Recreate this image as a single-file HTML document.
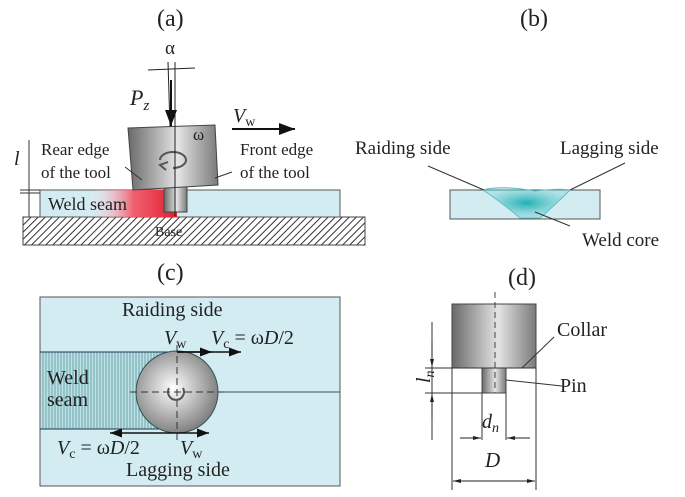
<!DOCTYPE html>
<html><head><style>body{margin:0;background:#fff}svg{display:block}text{font-family:"Liberation Serif",serif;fill:#222}</style></head><body>
<svg width="685" height="497" viewBox="0 0 685 497" xmlns="http://www.w3.org/2000/svg">
<defs>
<pattern id="h" width="5" height="5" patternUnits="userSpaceOnUse" patternTransform="rotate(45)"><rect width="5" height="5" fill="#fff"/><line x1="0" y1="0" x2="0" y2="5" stroke="#333" stroke-width="2"/></pattern>
<pattern id="v" width="3" height="4" patternUnits="userSpaceOnUse"><rect width="3" height="4" fill="#bfe0e4"/><line x1="1" y1="0" x2="1" y2="4" stroke="#6aa7ad" stroke-width="1"/></pattern>
<linearGradient id="red" x1="0" x2="1"><stop offset="0" stop-color="#fde" stop-opacity="0"/><stop offset="0.5" stop-color="#f06070"/><stop offset="1" stop-color="#e02030"/></linearGradient>
<linearGradient id="cyl" x1="0" x2="1"><stop offset="0" stop-color="#6a6a6a"/><stop offset="0.55" stop-color="#e4e4e4"/><stop offset="1" stop-color="#7a7a7a"/></linearGradient>
<radialGradient id="ball" cx="0.45" cy="0.45" r="0.6"><stop offset="0" stop-color="#fff"/><stop offset="1" stop-color="#777"/></radialGradient>
<radialGradient id="core" cx="0.5" cy="0.5" r="0.5"><stop offset="0" stop-color="#1fb0b3"/><stop offset="1" stop-color="#7fd3d6" stop-opacity="0.4"/></radialGradient>
<marker id="a" markerWidth="8" markerHeight="6" refX="8" refY="3" orient="auto"><path d="M0,0L8,3L0,6z" fill="#111"/></marker>
<marker id="as" markerWidth="8" markerHeight="6" refX="8" refY="3" orient="auto"><path d="M0,1L8,3L0,5z" fill="#222"/></marker>
</defs>
<!-- (a) -->
<text x="157" y="26" font-size="24">(a)</text>
<text x="165" y="54" font-size="19">α</text>
<rect x="23" y="217" width="342" height="28" fill="url(#h)" stroke="#444"/>
<rect x="40" y="190" width="300" height="27" fill="#d3ecf2" stroke="#555"/>
<rect x="90" y="190" width="87" height="27" fill="url(#red)"/>
<text x="48" y="210" font-size="18">Weld seam</text>
<text x="155" y="236" font-size="14" fill="#333">Base</text>
<rect x="164" y="187" width="23" height="25" fill="url(#cyl)" stroke="#444"/>
<polygon points="128,128 215,125 218,185 133,190" fill="url(#cyl)" stroke="#444"/>
<path d="M160,160 a13,8 0 1 1 13,8" fill="none" stroke="#555" stroke-width="2"/>
<path d="M168,162 l-8,3 l6,5" fill="none" stroke="#555" stroke-width="2"/>
<line x1="175" y1="62" x2="175" y2="216" stroke="#222"/>
<line x1="168" y1="62" x2="170" y2="127" stroke="#222"/>
<line x1="148" y1="70" x2="195" y2="68" stroke="#222"/>
<line x1="171" y1="80" x2="171" y2="126" stroke="#111" stroke-width="2" marker-end="url(#a)"/>
<text x="130" y="105" font-size="22" font-style="italic">P<tspan font-size="15" dy="5">z</tspan></text>
<text x="233" y="122" font-size="20" font-style="italic">V<tspan font-size="14" font-style="normal" dy="4">w</tspan></text>
<line x1="232" y1="129" x2="295" y2="129" stroke="#111" stroke-width="2" marker-end="url(#a)"/>
<text x="193" y="140" font-size="17">ω</text>
<text x="41" y="155" font-size="17">Rear edge</text><text x="41" y="178" font-size="17">of the tool</text>
<text x="240" y="155" font-size="17">Front edge</text><text x="240" y="178" font-size="17">of the tool</text>
<line x1="125" y1="167" x2="142" y2="180" stroke="#333"/>
<line x1="215" y1="178" x2="232" y2="172" stroke="#333"/>
<text x="14" y="165" font-size="20" font-style="italic">l</text>
<line x1="29" y1="140" x2="29" y2="217" stroke="#333"/>
<line x1="20" y1="190" x2="40" y2="190" stroke="#333"/>
<line x1="20" y1="193" x2="40" y2="193" stroke="#333"/>
<!-- (b) -->
<text x="520" y="26" font-size="24">(b)</text>
<rect x="450" y="190" width="150" height="29" fill="#d3ecf2" stroke="#555"/>
<path d="M483,190 Q500,185 535,191 Q560,188 570,190 Q555,205 540,218 L520,218 Q505,205 483,190z" fill="url(#core)" stroke="#5bbfc3"/>
<text x="355" y="154" font-size="19">Raiding side</text>
<text x="560" y="154" font-size="19">Lagging side</text>
<text x="582" y="246" font-size="19">Weld core</text>
<line x1="428" y1="166" x2="484" y2="190" stroke="#333"/>
<line x1="625" y1="163" x2="570" y2="190" stroke="#333"/>
<line x1="535" y1="212" x2="570" y2="226" stroke="#333"/>
<!-- (c) -->
<text x="157" y="280" font-size="24">(c)</text>
<rect x="40" y="297" width="300" height="189" fill="#d3ecf2" stroke="#555"/>
<rect x="41" y="352" width="136" height="77" fill="url(#v)"/>
<line x1="40" y1="352" x2="178" y2="352" stroke="#235"/>
<line x1="40" y1="429" x2="178" y2="429" stroke="#235"/>
<line x1="216" y1="392" x2="340" y2="392" stroke="#356"/>
<circle cx="177" cy="392" r="41" fill="url(#ball)" stroke="#355"/>
<line x1="177" y1="345" x2="177" y2="440" stroke="#333" stroke-dasharray="7,4"/>
<line x1="130" y1="392" x2="224" y2="392" stroke="#333" stroke-dasharray="7,4"/>
<path d="M169,388 a8,8 0 1 0 14,0" fill="none" stroke="#555" stroke-width="2"/>
<line x1="177" y1="352" x2="212" y2="352" stroke="#111" stroke-width="1.5" marker-end="url(#a)"/>
<line x1="177" y1="352" x2="241" y2="352" stroke="#111" stroke-width="1.5" marker-end="url(#a)"/>
<line x1="177" y1="433" x2="110" y2="433" stroke="#111" stroke-width="1.5" marker-end="url(#a)"/>
<line x1="177" y1="433" x2="209" y2="433" stroke="#111" stroke-width="1.5" marker-end="url(#a)"/>
<text x="122" y="316" font-size="20">Raiding side</text>
<text x="164" y="344" font-size="20" font-style="italic">V<tspan font-size="14" font-style="normal" dy="4">w</tspan></text>
<text x="211" y="344" font-size="20" font-style="italic">V<tspan font-size="14" font-style="normal" dy="4">c</tspan><tspan font-style="normal" dy="-4"> = ω</tspan>D<tspan font-style="normal">/2</tspan></text>
<text x="47" y="384" font-size="20">Weld</text><text x="47" y="406" font-size="20">seam</text>
<text x="57" y="454" font-size="20" font-style="italic">V<tspan font-size="14" font-style="normal" dy="4">c</tspan><tspan font-style="normal" dy="-4"> = ω</tspan>D<tspan font-style="normal">/2</tspan></text>
<text x="180" y="454" font-size="20" font-style="italic">V<tspan font-size="14" font-style="normal" dy="4">w</tspan></text>
<text x="126" y="476" font-size="20">Lagging side</text>
<!-- (d) -->
<text x="508" y="285" font-size="24">(d)</text>
<rect x="452" y="304" width="84" height="64" fill="url(#cyl)" stroke="#444"/>
<rect x="482" y="368" width="24" height="25" fill="url(#cyl)" stroke="#444"/>
<line x1="495" y1="292" x2="495" y2="393" stroke="#444" stroke-dasharray="6,4"/>
<line x1="425" y1="368" x2="536" y2="368" stroke="#333"/>
<line x1="425" y1="393" x2="482" y2="393" stroke="#333"/>
<line x1="432" y1="322" x2="432" y2="440" stroke="#333"/>
<line x1="432" y1="340" x2="432" y2="367" stroke="#222" marker-end="url(#as)"/>
<line x1="432" y1="420" x2="432" y2="394" stroke="#222" marker-end="url(#as)"/>
<text x="420" y="393" font-size="20" font-style="italic" transform="rotate(-90 420 383)">l<tspan font-size="14" dy="4">n</tspan></text>
<line x1="452" y1="368" x2="452" y2="490" stroke="#333"/>
<line x1="536" y1="368" x2="536" y2="490" stroke="#333"/>
<line x1="482" y1="393" x2="482" y2="440" stroke="#333"/>
<line x1="506" y1="393" x2="506" y2="440" stroke="#333"/>
<line x1="460" y1="438" x2="481" y2="438" stroke="#222" marker-end="url(#as)"/>
<line x1="530" y1="438" x2="507" y2="438" stroke="#222" marker-end="url(#as)"/>
<line x1="470" y1="481" x2="453" y2="481" stroke="#222" marker-end="url(#as)"/>
<line x1="470" y1="481" x2="535" y2="481" stroke="#222" marker-end="url(#as)"/>
<text x="482" y="428" font-size="20" font-style="italic">d<tspan font-size="14" dy="4">n</tspan></text>
<text x="485" y="467" font-size="21" font-style="italic">D</text>
<text x="557" y="336" font-size="20">Collar</text>
<text x="560" y="392" font-size="20">Pin</text>
<line x1="554" y1="337" x2="522" y2="368" stroke="#333"/>
<line x1="506" y1="380" x2="562" y2="386" stroke="#333"/>
</svg>
</body></html>
